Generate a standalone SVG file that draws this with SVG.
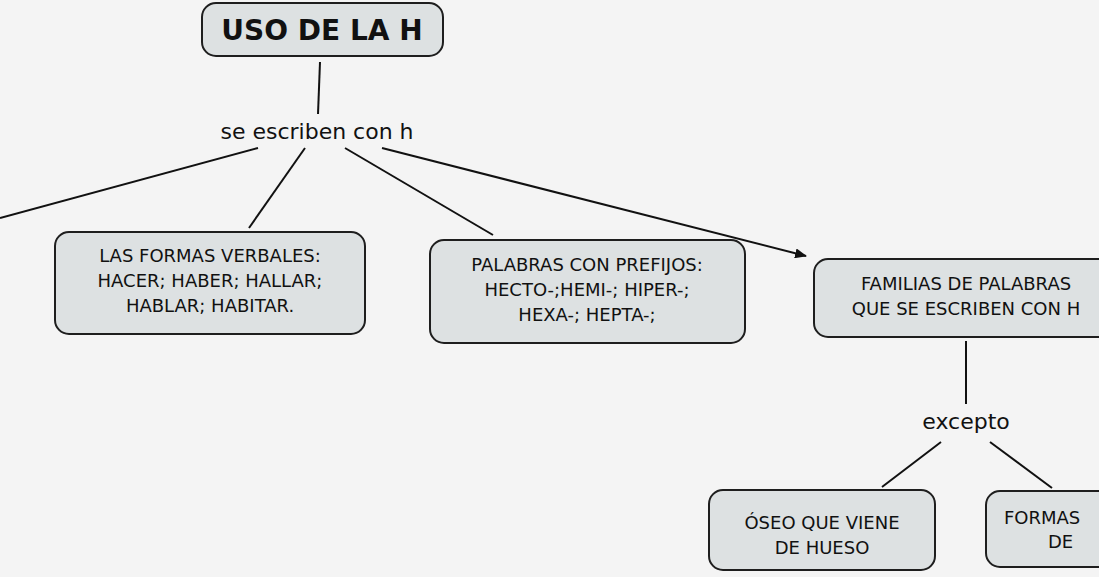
<svg xmlns="http://www.w3.org/2000/svg" width="1099" height="577" viewBox="0 0 1099 577">
<style>
.box{fill:#dde1e2;stroke:#1e1e1e;stroke-width:2}
.t{font-family:"DejaVu Sans",Verdana,sans-serif;font-size:18px;fill:#111;text-anchor:middle}
.lbl{font-family:"DejaVu Sans",Verdana,sans-serif;font-size:22px;fill:#111;text-anchor:middle}
.c line{stroke:#111;stroke-width:2}
</style>
<defs><marker id="ar" markerWidth="12" markerHeight="10" refX="11" refY="5" orient="auto" markerUnits="userSpaceOnUse" viewBox="0 0 12 10"><path d="M0,0L12,5L0,10z" fill="#111"/></marker></defs>
<rect width="1099" height="577" fill="#f4f4f4"/>
<g class="c">
<line x1="320" y1="62" x2="318" y2="114"/>
<line x1="258" y1="148" x2="0" y2="218"/>
<line x1="305" y1="148" x2="249" y2="228"/>
<line x1="345" y1="148" x2="493" y2="235"/>
<line x1="382" y1="148" x2="806" y2="256" marker-end="url(#ar)" style="stroke-width:2"/>
<line x1="966" y1="341" x2="966" y2="404"/>
<line x1="941" y1="442" x2="882" y2="487"/>
<line x1="990" y1="442" x2="1052" y2="488"/>
</g>
<g id="n-title"><rect class="box" x="202" y="3" width="241" height="53" rx="14"/><text x="322" y="40" class="t" style="font-size:28px;font-weight:bold">USO DE LA H</text></g>
<g id="n-se"><text x="317" y="139" class="lbl">se escriben con h</text></g>
<g id="n-verb"><rect class="box" x="55" y="232" width="310" height="102" rx="14"/><text class="t" x="210" y="262">LAS FORMAS VERBALES:</text><text class="t" x="210" y="287">HACER; HABER; HALLAR;</text><text class="t" x="210" y="312">HABLAR; HABITAR.</text></g>
<g id="n-pref"><rect class="box" x="430" y="240" width="315" height="103" rx="14"/><text class="t" x="587" y="271">PALABRAS CON PREFIJOS:</text><text class="t" x="587" y="296">HECTO-;HEMI-; HIPER-;</text><text class="t" x="587" y="321">HEXA-; HEPTA-;</text></g>
<g id="n-fam"><rect class="box" x="814" y="259" width="300" height="78" rx="14"/><text class="t" x="966" y="290">FAMILIAS DE PALABRAS</text><text class="t" x="966" y="315">QUE SE ESCRIBEN CON H</text></g>
<g id="n-exc"><text x="966" y="429" class="lbl">excepto</text></g>
<g id="n-oseo"><rect class="box" x="709" y="490" width="226" height="80" rx="14"/><text class="t" x="822" y="529">ÓSEO QUE VIENE</text><text class="t" x="822" y="554">DE HUESO</text></g>
<g id="n-formas"><rect class="box" x="986" y="491" width="130" height="76" rx="14"/><text class="t" x="1004" y="524" style="text-anchor:start">FORMAS</text><text class="t" x="1048" y="548" style="text-anchor:start">DE</text></g>
</svg>
